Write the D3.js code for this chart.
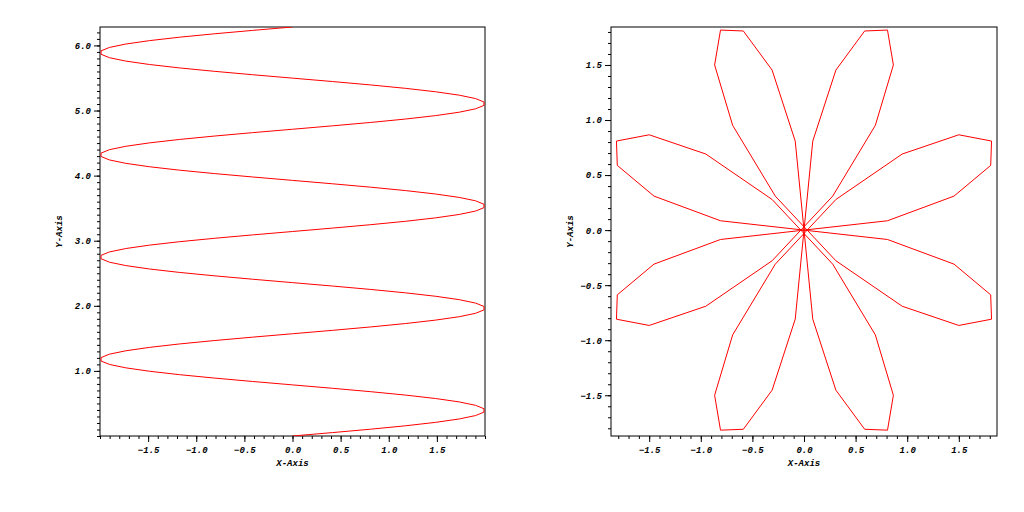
<!DOCTYPE html>
<html><head><meta charset="utf-8">
<script src="https://cdn.jsdelivr.net/npm/d3@7"></script>
<style>body{margin:0;background:#fff}</style></head>
<body><svg id="c" width="1024" height="512"></svg>
<script>
// right panel: sample angles (degrees) and radius values
const tDeg=[0,6,12,18,24,30,36,42,48,54,60,66,72,78,84,90,96,102,108,114,120,126,132,138,144,150,156,162,168,174,180,186,192,198,204,210,216,222,228,234,240,246,252,258,264,270,276,282,288,294,300,306,312,318,324,330,336,342,348,354,360];
const rVals=[0,0.813,1.486,1.902,1.989,1.732,1.176,0.416,-0.416,-1.176,-1.732,-1.989,-1.902,-1.486,-0.813,
0,0.813,1.486,1.902,1.989,1.732,1.176,0.416,-0.416,-1.176,-1.732,-1.989,-1.902,-1.486,-0.813,
0,0.813,1.486,1.902,1.989,1.732,1.176,0.416,-0.416,-1.176,-1.732,-1.989,-1.902,-1.486,-0.813,
0,0.813,1.486,1.902,1.989,1.732,1.176,0.416,-0.416,-1.176,-1.732,-1.989,-1.902,-1.486,-0.813,0];
// left panel: x values sampled every 3 degrees of y (y in radians, 0..2π)
const leftX=[0,0.416,0.813,1.176,1.486,1.732,1.902,1.989,1.989,1.902,1.732,1.486,1.176,0.813,0.416,0,-0.416,-0.813,-1.176,-1.486,-1.732,-1.902,-1.989,-1.989,-1.902,-1.732,-1.486,-1.176,-0.813,-0.416,
0,0.416,0.813,1.176,1.486,1.732,1.902,1.989,1.989,1.902,1.732,1.486,1.176,0.813,0.416,0,-0.416,-0.813,-1.176,-1.486,-1.732,-1.902,-1.989,-1.989,-1.902,-1.732,-1.486,-1.176,-0.813,-0.416,
0,0.416,0.813,1.176,1.486,1.732,1.902,1.989,1.989,1.902,1.732,1.486,1.176,0.813,0.416,0,-0.416,-0.813,-1.176,-1.486,-1.732,-1.902,-1.989,-1.989,-1.902,-1.732,-1.486,-1.176,-0.813,-0.416,
0,0.416,0.813,1.176,1.486,1.732,1.902,1.989,1.989,1.902,1.732,1.486,1.176,0.813,0.416,0,-0.416,-0.813,-1.176,-1.486,-1.732,-1.902,-1.989,-1.989,-1.902,-1.732,-1.486,-1.176,-0.813,-0.416,0];
const leftXTicks=[-1.5,-1.0,-0.5,0.0,0.5,1.0,1.5];
const leftYTicks=[1.0,2.0,3.0,4.0,5.0,6.0];
const rightXTicks=[-1.5,-1.0,-0.5,0.0,0.5,1.0,1.5];
const rightYTicks=[-1.5,-1.0,-0.5,0.0,0.5,1.0,1.5];

const svg=d3.select("#c");
const font="'Liberation Mono', monospace";
function panel(x0,x1,y0,y1,xd,yd,xt,yt,pts){
  const x=d3.scaleLinear().domain(xd).range([x0,x1]);
  const y=d3.scaleLinear().domain(yd).range([y1,y0]);
  const g=svg.append("g");
  g.append("rect").attr("x",x0).attr("y",y0).attr("width",x1-x0).attr("height",y1-y0).attr("fill","none").attr("stroke","#000");
  const cl="cl"+x0;
  g.append("clipPath").attr("id",cl).append("rect").attr("x",x0).attr("y",y0).attr("width",x1-x0).attr("height",y1-y0);
  const minorX=d3.range(Math.ceil(xd[0]*10),Math.floor(xd[1]*10)+1).map(v=>v/10);
  const minorY=d3.range(Math.ceil(yd[0]*10),Math.floor(yd[1]*10)+1).map(v=>v/10);
  g.append("g").attr("transform",`translate(0,${y1})`).call(d3.axisBottom(x).tickValues(minorX).tickSize(3).tickFormat("")).call(s=>s.select(".domain").remove());
  g.append("g").attr("transform",`translate(0,${y1})`).call(d3.axisBottom(x).tickValues(xt).tickSize(6).tickFormat(d3.format(".1f")))
    .call(s=>s.select(".domain").remove()).selectAll("text").attr("font-family",font).attr("font-weight","bold").attr("font-style","italic").attr("font-size",9).attr("dy","0.9em");
  g.append("g").attr("transform",`translate(${x0},0)`).call(d3.axisLeft(y).tickValues(minorY).tickSize(3).tickFormat("")).call(s=>s.select(".domain").remove());
  g.append("g").attr("transform",`translate(${x0},0)`).call(d3.axisLeft(y).tickValues(yt).tickSize(6).tickFormat(d3.format(".1f")))
    .call(s=>s.select(".domain").remove()).selectAll("text").attr("font-family",font).attr("font-weight","bold").attr("font-style","italic").attr("font-size",9);
  g.append("text").attr("x",(x0+x1)/2).attr("y",y1+30).attr("text-anchor","middle").attr("font-family",font).attr("font-weight","bold").attr("font-style","italic").attr("font-size",9).text("X-Axis");
  g.append("text").attr("transform",`translate(${x0-38},${(y0+y1)/2}) rotate(-90)`).attr("text-anchor","middle").attr("font-family",font).attr("font-weight","bold").attr("font-style","italic").attr("font-size",9).text("Y-Axis");
  g.append("path").attr("clip-path",`url(#${cl})`).attr("d",d3.line().x(d=>x(d[0])).y(d=>y(d[1]))(pts)).attr("fill","none").attr("stroke","#f00").attr("stroke-width",1);
}
const leftPts=leftX.map((v,i)=>[v,i*3*Math.PI/180]);
const rightPts=tDeg.map((t,i)=>[rVals[i]*Math.cos(t*Math.PI/180),rVals[i]*Math.sin(t*Math.PI/180)]);
panel(100,485,27,436,[-2,2],[0,2*Math.PI],leftXTicks,leftYTicks,leftPts);
panel(611,997,27,436,[-1.87,1.87],[-1.87,1.845],rightXTicks,rightYTicks,rightPts);
</script></body></html>
